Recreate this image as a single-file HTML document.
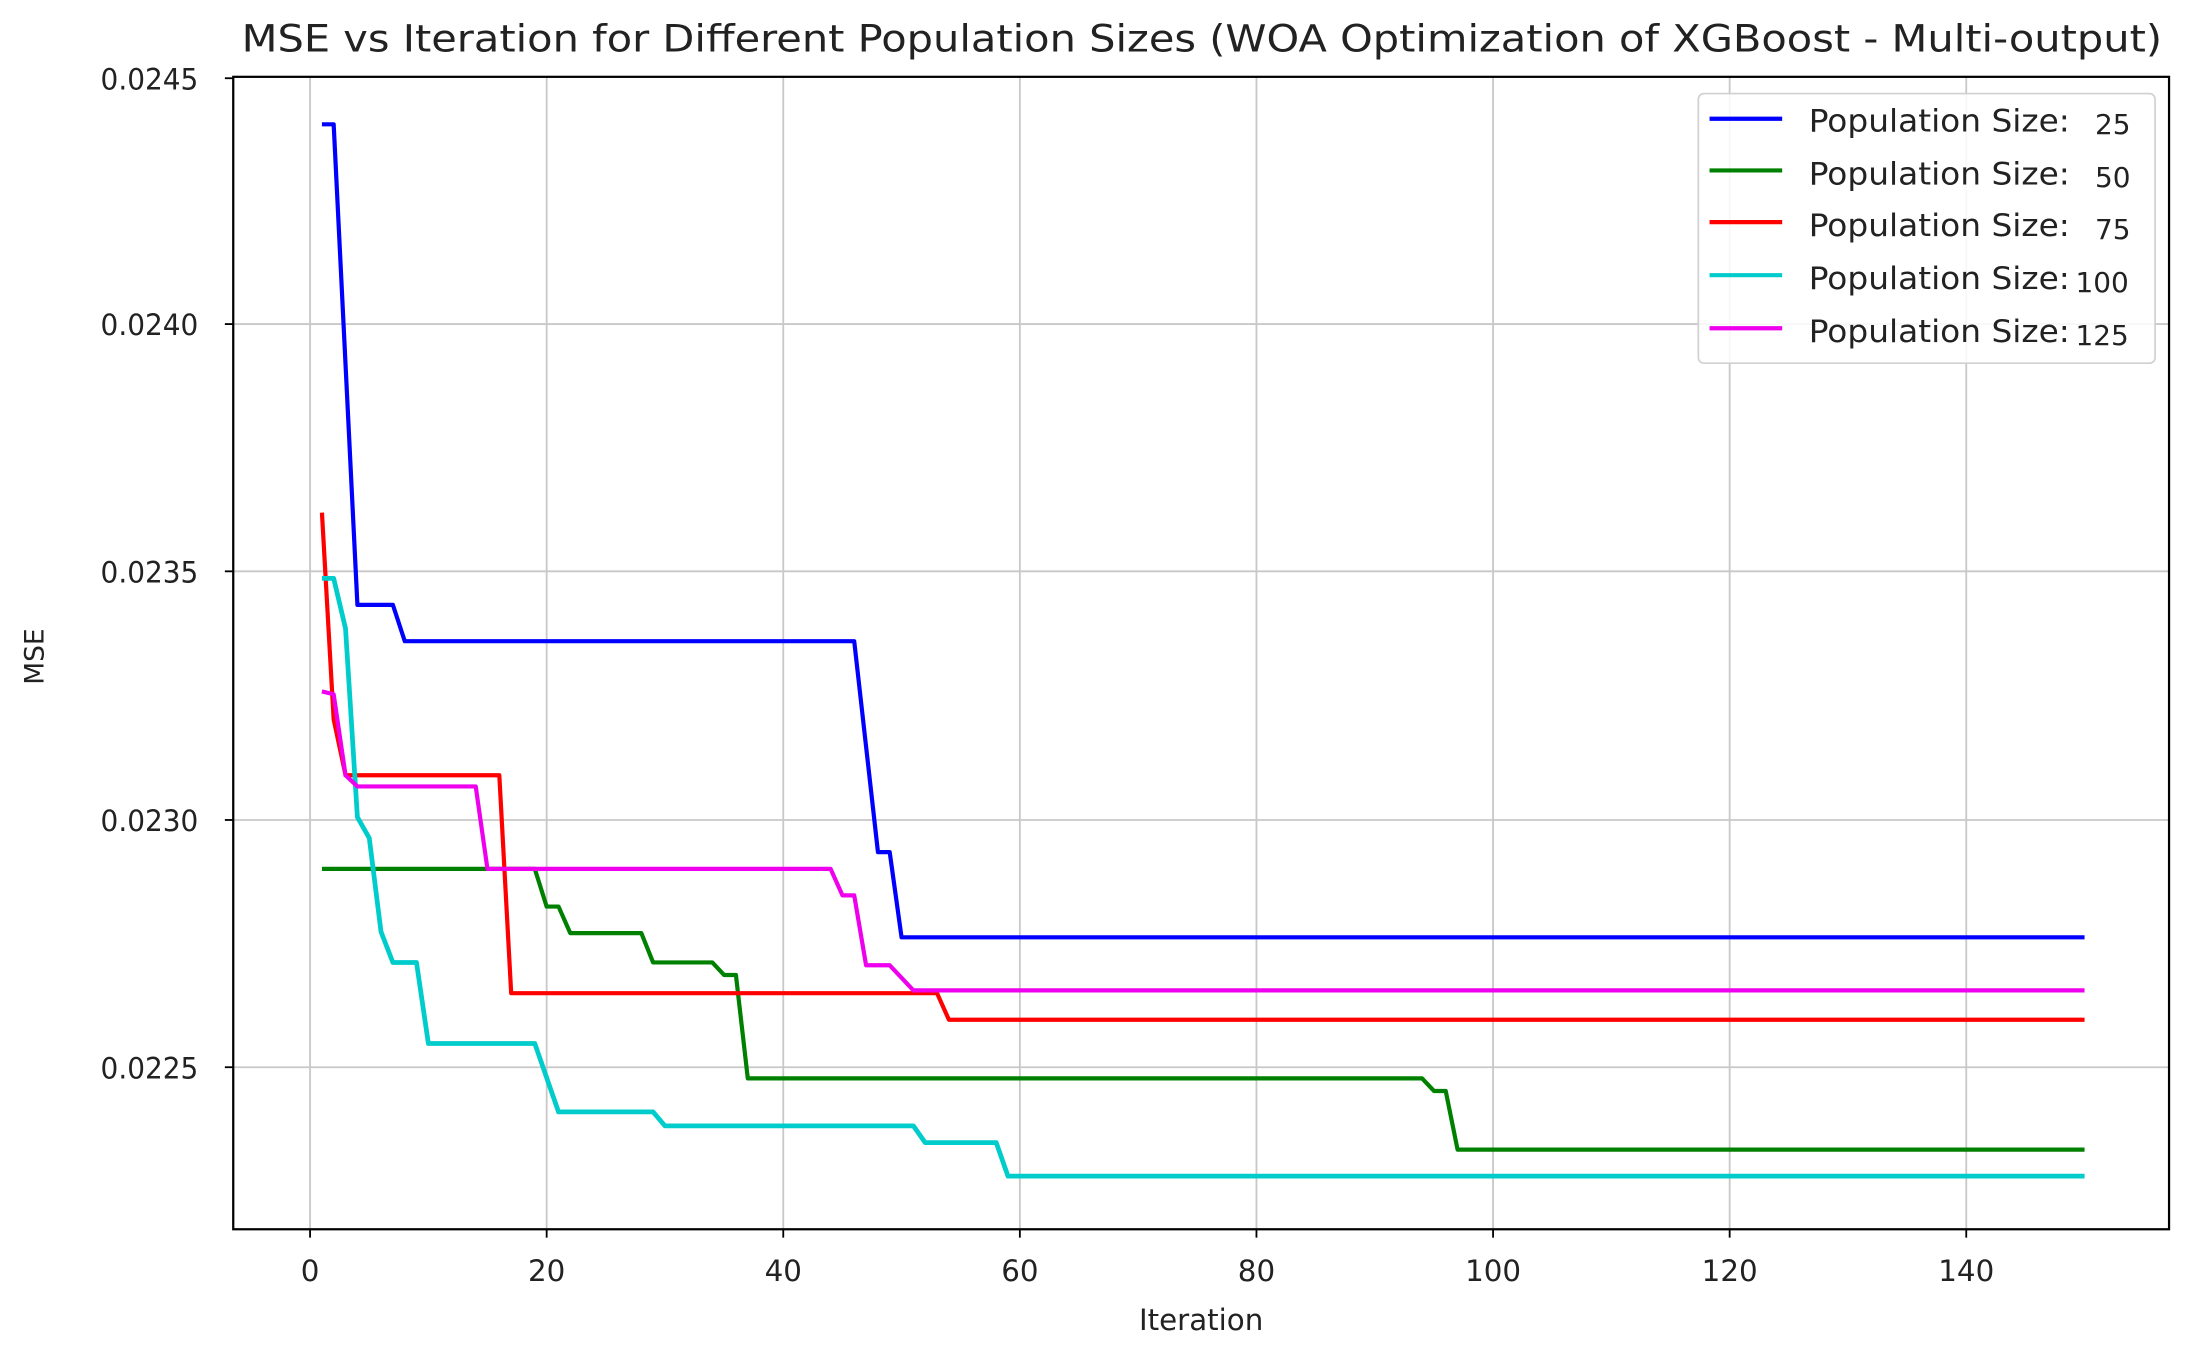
<!DOCTYPE html>
<html><head><meta charset="utf-8"><style>
html,body{margin:0;padding:0;background:#fff;}
svg{display:block;}
text{font-family:"DejaVu Sans","Liberation Sans",sans-serif;fill:#222;}
</style></head><body>
<svg width="2190" height="1348" viewBox="0 0 1568 965" preserveAspectRatio="none" xmlns="http://www.w3.org/2000/svg">
<rect width="1568" height="965" fill="#fff"/>
<text x="173" y="37" font-size="27" textLength="1375" lengthAdjust="spacingAndGlyphs">MSE vs Iteration for Different Population Sizes (WOA Optimization of XGBoost - Multi-output)</text>
<g stroke="#c8c8c8" stroke-width="1.3">
<line x1="222" y1="55" x2="222" y2="880"/><line x1="391.4" y1="55" x2="391.4" y2="880"/>
<line x1="560.8" y1="55" x2="560.8" y2="880"/><line x1="730.2" y1="55" x2="730.2" y2="880"/>
<line x1="899.6" y1="55" x2="899.6" y2="880"/><line x1="1069" y1="55" x2="1069" y2="880"/>
<line x1="1238.4" y1="55" x2="1238.4" y2="880"/><line x1="1407.8" y1="55" x2="1407.8" y2="880"/>
<line x1="167" y1="232" x2="1553" y2="232"/><line x1="167" y1="409" x2="1553" y2="409"/>
<line x1="167" y1="587" x2="1553" y2="587"/><line x1="167" y1="764" x2="1553" y2="764"/>
</g>
<g fill="none" stroke-width="3" stroke-linejoin="round">
<polyline stroke="#0000ff" points="230.5,89 238.9,89 255.9,433 281.3,433 289.8,459 611.6,459 628.6,610 637,610 645.5,671 1492.5,671"/>
<polyline stroke="#008000" points="230.5,622 382.9,622 391.4,649 399.9,649 408.3,668 459.2,668 467.6,689 510,689 518.5,698 526.9,698 535.4,772 1018.2,772 1026.7,781 1035.1,781 1043.6,823 1492.5,823"/>
<polyline stroke="#ff0000" points="230.5,367 238.9,515 247.4,555 357.5,555 366,711 670.9,711 679.4,730 1492.5,730"/>
<polyline stroke="#00cccc" stroke-width="3.4" points="230.5,414 238.9,414 247.4,450 255.9,585 264.4,600 272.8,667 281.3,689 298.2,689 306.7,747 382.9,747 399.9,796 467.6,796 476.1,806 654,806 662.4,818 713.3,818 721.7,842 1492.5,842"/>
<polyline stroke="#ee00ee" points="230.5,495 238.9,497 247.4,555 255.9,563 340.6,563 349,622 594.7,622 603.2,641 611.6,641 620.1,691 637,691 645.5,700 654,709 1492.5,709"/>
</g>
<rect x="167" y="55" width="1386" height="825" fill="none" stroke="#000" stroke-width="1.6"/>
<g stroke="#000" stroke-width="1.3">
<line x1="161" y1="56" x2="167" y2="56"/><line x1="161" y1="232" x2="167" y2="232"/>
<line x1="161" y1="409" x2="167" y2="409"/><line x1="161" y1="587" x2="167" y2="587"/>
<line x1="161" y1="764" x2="167" y2="764"/>
<line x1="222" y1="880" x2="222" y2="886"/><line x1="391.4" y1="880" x2="391.4" y2="886"/>
<line x1="560.8" y1="880" x2="560.8" y2="886"/><line x1="730.2" y1="880" x2="730.2" y2="886"/>
<line x1="899.6" y1="880" x2="899.6" y2="886"/><line x1="1069" y1="880" x2="1069" y2="886"/>
<line x1="1238.4" y1="880" x2="1238.4" y2="886"/><line x1="1407.8" y1="880" x2="1407.8" y2="886"/>
</g>
<g font-size="21">
<text x="72" y="64" textLength="70" lengthAdjust="spacingAndGlyphs">0.0245</text>
<text x="72" y="240" textLength="70" lengthAdjust="spacingAndGlyphs">0.0240</text>
<text x="72" y="417" textLength="70" lengthAdjust="spacingAndGlyphs">0.0235</text>
<text x="72" y="595" textLength="70" lengthAdjust="spacingAndGlyphs">0.0230</text>
<text x="72" y="772" textLength="70" lengthAdjust="spacingAndGlyphs">0.0225</text>
</g>
<g font-size="21" text-anchor="middle">
<text x="222" y="917">0</text><text x="391.4" y="917">20</text><text x="560.8" y="917">40</text>
<text x="730.2" y="917">60</text><text x="899.6" y="917">80</text><text x="1069" y="917">100</text>
<text x="1238.4" y="917">120</text><text x="1407.8" y="917">140</text>
<text x="860" y="952" font-size="21">Iteration</text>
<text transform="translate(31,470) rotate(-90)" font-size="19">MSE</text>
</g>
<rect x="1216" y="67" width="327" height="193" rx="4" fill="#fff" fill-opacity="0.85" stroke="#d0d0d0" stroke-width="1.2"/>
<g stroke-width="3">
<line x1="1224" y1="85" x2="1276" y2="85" stroke="#0000ff"/>
<line x1="1224" y1="122" x2="1276" y2="122" stroke="#008000"/>
<line x1="1224" y1="159" x2="1276" y2="159" stroke="#ff0000"/>
<line x1="1224" y1="197" x2="1276" y2="197" stroke="#00cccc"/>
<line x1="1224" y1="235" x2="1276" y2="235" stroke="#ee00ee"/>
</g>
<g font-size="22">
<text x="1295" y="94" textLength="187" lengthAdjust="spacingAndGlyphs">Population Size:</text><text x="1500" y="96" font-size="20">25</text>
<text x="1295" y="132" textLength="187" lengthAdjust="spacingAndGlyphs">Population Size:</text><text x="1500" y="134" font-size="20">50</text>
<text x="1295" y="169" textLength="187" lengthAdjust="spacingAndGlyphs">Population Size:</text><text x="1500" y="171" font-size="20">75</text>
<text x="1295" y="207" textLength="187" lengthAdjust="spacingAndGlyphs">Population Size:</text><text x="1486" y="209" font-size="20">100</text>
<text x="1295" y="245" textLength="187" lengthAdjust="spacingAndGlyphs">Population Size:</text><text x="1486" y="247" font-size="20">125</text>
</g>
</svg>
</body></html>
